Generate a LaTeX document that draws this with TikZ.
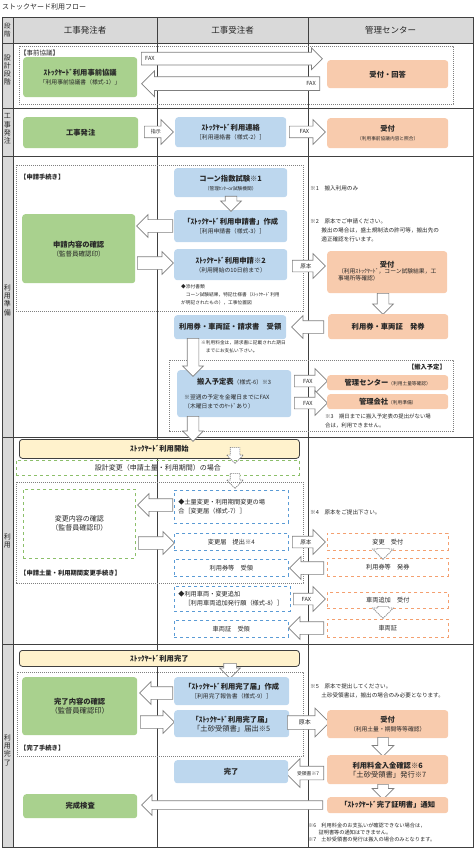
\documentclass[tikz,border=0pt]{standalone}
\usepackage{fontspec}
\setmainfont{Noto Sans CJK JP}
\usetikzlibrary{shapes.arrows,positioning}

\definecolor{boxgreen}{HTML}{A9D18E}
\definecolor{boxblue}{HTML}{BDD7EE}
\definecolor{boxorange}{HTML}{F8CBAD}
\definecolor{barfill}{HTML}{FFF2CC}
\definecolor{hdgray}{HTML}{D9D9D9}
\definecolor{arrgray}{HTML}{7F7F7F}
\definecolor{dshblue}{HTML}{5B9BD5}
\definecolor{dshorange}{HTML}{F4A070}
\definecolor{dshgreen}{HTML}{8CBF6A}
\definecolor{txt}{HTML}{262626}

\newcommand\szH{\fontsize{8.5}{10}\selectfont}
\newcommand\szA{\fontsize{7.3}{9}\selectfont}
\newcommand\szB{\fontsize{5.8}{7.5}\selectfont}
\newcommand\szN{\fontsize{5.6}{9}\selectfont}
\newcommand\szT{\fontsize{4.7}{8}\selectfont}
\newcommand\szR{\fontsize{7}{8.3}\selectfont}

\begin{document}
\begin{tikzpicture}[x=1pt,y=-1pt,
  box/.style={anchor=north west, rounded corners=3pt, align=center, inner sep=1pt, font=\szA, text=txt},
  gbox/.style={box, fill=boxgreen},
  bbox/.style={box, fill=boxblue},
  obox/.style={box, fill=boxorange},
  bdash/.style={box, rounded corners=0pt, draw=dshblue, dashed, line width=0.6pt, font=\fontsize{6.2}{8.5}\selectfont},
  odash/.style={bdash, draw=dshorange},
  gdash/.style={bdash, draw=dshgreen},
  ybar/.style={box, fill=barfill, draw=black!75, line width=0.8pt},
  grp/.style={draw=gray, dash pattern=on 1.2pt off 0.8pt, line width=0.5pt},
  tline/.style={draw=black!75, line width=0.8pt},
  barrow/.style={single arrow, draw=arrgray, fill=white, line width=0.7pt, inner xsep=1pt, inner ysep=0pt,
    font=\szN, text=txt, text height=7.5pt, text depth=3.5pt, single arrow head extend=6.5pt, anchor=tail},
  larrow/.style={barrow, shape border rotate=180},
  side/.style={text height=8pt, text depth=4pt, single arrow head extend=5pt},
  darrow/.style={barrow, rotate=-90, single arrow head extend=4.5pt},
  ddarrow/.style={darrow, dash pattern=on 1.2pt off 0.8pt},
  note/.style={anchor=north west, align=left, font=\szN, inner sep=0pt, text=txt},
  lbl/.style={font=\szN, inner sep=0pt, text=txt},
  sect/.style={anchor=west, inner sep=0pt, font=\fontsize{6.3}{8}\selectfont\bfseries, text=txt},
  rowlbl/.style={align=center, font=\szR, inner sep=0pt, text=txt}
]
\useasboundingbox (0,0) rectangle (474,850);

% table
\node[anchor=west, font=\fontsize{7}{8}\selectfont, inner sep=0pt, text=txt] (title) at (2,7) {ストックヤード利用フロー};
\fill[hdgray] (2,18) rectangle (473,43);
\fill[hdgray] (2,43) rectangle (13,847);
\foreach \y in {43,108,156,437,644}
  \draw[tline] (2,\y) -- (473,\y);
\foreach \x in {13,157,308}
  \draw[tline] (\x,18) -- (\x,847);
\draw[tline, line width=1pt] (2,18) rectangle (473,847);

\node[rowlbl, font=\fontsize{6.5}{8}\selectfont] (dankai) at (7.5,30.5) {段\\階};
\node[font=\szH, text=txt] (hd1) at (85,30.5) {工事発注者};
\node[font=\szH, text=txt] (hd2) at (232.5,30.5) {工事受注者};
\node[font=\szH, text=txt] (hd3) at (390.5,30.5) {管理センター};
\node[rowlbl] (r1) at (7.5,70) {設\\計\\段\\階};
\node[rowlbl] (r2) at (7.5,129) {工\\事\\発\\注};
\node[rowlbl] (r3) at (7.5,300) {利\\用\\準\\備};
\node[rowlbl] (r4) at (7.5,541) {利\\用};
\node[rowlbl] (r5) at (7.5,750) {利\\用\\完\\了};

% 設計段階
\draw[grp] (19,46) rectangle (453,104);
\node[sect, font=\fontsize{6.5}{8}\selectfont] (kyogi) at (20,53) {【事前協議】};
\node[gbox, minimum width=114pt, minimum height=40pt] (jizen) at (23,57)
  {\bfseries ｽﾄｯｸﾔｰﾄﾞ利用事前協議\\\mdseries\szB 「利用事前協議書（様式-1）」};
\node[obox, minimum width=121pt, minimum height=28pt] (kaito) at (327,60) {\bfseries 受付・回答};
\node[barrow, minimum height=181pt, text height=8pt, text depth=4pt, single arrow head extend=4.5pt] (fax1) at (141,58.7) {};
\node[lbl, right=4pt of fax1.tail] (faxl1) {FAX};
\node[larrow, minimum height=178pt, text height=8.5pt, text depth=4.5pt, single arrow head extend=6pt] (fax2) at (320,83.7) {};
\node[lbl, left=4pt of fax2.tail] (faxl2) {FAX};

% 工事発注
\node[gbox, minimum width=115pt, minimum height=31pt] (hatchu) at (23,117) {\bfseries 工事発注};
\node[barrow, minimum height=29pt, font=\fontsize{5}{6}\selectfont] (shiji) at (144,132) {指示};
\node[bbox, minimum width=111pt, minimum height=30pt] (renraku) at (175,117)
  {\bfseries ｽﾄｯｸﾔｰﾄﾞ利用連絡\\\mdseries\szB［利用連絡書（様式-2）］};
\node[barrow, minimum height=36pt] (fax3) at (289,132) {FAX};
\node[obox, minimum width=121pt, minimum height=30pt] (uke1) at (327,118)
  {\bfseries 受付\\\mdseries\szT（利用事前協議内容と照合）};

% 利用準備
\draw[grp] (16,165) rectangle (303,311);
\node[sect] (tetsuzuki1) at (20,177) {【申請手続き】};
\node[bbox, minimum width=113pt, minimum height=29pt] (cone) at (174,168)
  {\bfseries コーン指数試験※1\\\mdseries\szT（管理ｾﾝﾀｰor試験機関）};
\node[bbox, minimum width=113pt, minimum height=32pt] (shinseisho) at (174,210)
  {\bfseries 「ｽﾄｯｸﾔｰﾄﾞ利用申請書」作成\\\mdseries\szB［利用申請書（様式-3）］};
\node[darrow, minimum height=15pt] (a1) at (231,196) {};
\node[gbox, minimum width=113pt, minimum height=69pt] (kakunin1) at (22,214)
  {\bfseries 申請内容の確認\\\mdseries\fontsize{6.5}{8.5}\selectfont（監督員確認印）};
\node[larrow, side, minimum height=36pt] (a2) at (173,226) {};
\node[barrow, side, minimum height=36pt] (a3) at (137,263) {};
\node[bbox, minimum width=113pt, minimum height=31pt] (shinsei) at (174,249)
  {\bfseries ｽﾄｯｸﾔｰﾄﾞ利用申請※2\\\mdseries\szB（利用開始の10日前まで）};
\node[note, font=\fontsize{4.7}{8}\selectfont] (tenpu) at (181,284)
  {◆添付書類\\　コーン試験結果，特記仕様書（ｽﾄｯｸﾔｰﾄﾞ利用\\が明記されたもの），工事位置図};
\node[barrow, minimum height=33pt] (gen1) at (292,266) {原本};
\node[obox, minimum width=120pt, minimum height=42pt] (uke2) at (327,251)
  {\bfseries 受付\\[-1pt]\mdseries\szB\begin{tabular}{@{}l@{}}（利用ｽﾄｯｸﾔｰﾄﾞ，コーン試験結果，工\\事場所等確認）\end{tabular}};
\node[note, anchor=west] (note1) at (310,188) {※1　搬入利用のみ};
\node[note] (note2) at (310,219) {※2　原本でご申請ください。\\　　搬出の場合は，盛土規制法の許可等，搬出先の\\　　適正確認を行います。};
\node[darrow, minimum height=21pt] (a4) at (383,293) {};
\node[obox, minimum width=120pt, minimum height=25pt] (hakken1) at (328,314) {\bfseries 利用券・車両証　発券};
\node[larrow, side, minimum height=32pt] (a5) at (324,327) {};
\node[bbox, minimum width=112pt, minimum height=24pt] (juryo1) at (174,315) {\bfseries 利用券・車両証・請求書　受領};
\node[note, font=\fontsize{4.7}{8}\selectfont] (shiharai) at (201,340) {※利用料金は，請求書に記載された期日\\　までにお支払い下さい。};
\draw[grp] (169,360) rectangle (453,431);
\node[sect, anchor=east] (yotei) at (446,367) {【搬入予定】};
\node[bbox, minimum width=114pt, minimum height=47pt, align=left, text width=100pt] (hannyu) at (177,370)
  {\makebox[100pt]{\bfseries 搬入予定表\mdseries\szB（様式-6）※3}\\[7pt]\szB ※翌週の予定を金曜日までにFAX\\（木曜日までのﾔｰﾄﾞあり）};
\node[darrow, minimum height=38pt] (a6) at (193,338) {};
\node[barrow, minimum height=33pt] (fax4) at (294,381) {FAX};
\node[barrow, minimum height=33pt] (fax5) at (294,403) {FAX};
\node[obox, minimum width=121pt, minimum height=15pt] (kanri1) at (327,375)
  {\bfseries 管理センター\mdseries\szT（利用土量等確認）};
\node[obox, minimum width=121pt, minimum height=15pt] (kanri2) at (327,394)
  {\bfseries 管理会社\mdseries\szT（利用準備）};
\node[note, font=\fontsize{5.4}{8.5}\selectfont] (note3) at (325,414) {※3　期日までに搬入予定表の提出がない場\\合は，利用できません。};

% 利用
\node[ybar, minimum width=280pt, minimum height=19pt] (kaishi) at (19,439) {\bfseries ｽﾄｯｸﾔｰﾄﾞ利用開始};
\node[darrow, minimum height=25pt] (a7) at (193,416) {};
\node[ddarrow, minimum height=16pt, text height=6.5pt, text depth=2.5pt, single arrow head extend=3.5pt] (d1) at (235,447) {};
\node[gdash, minimum width=283pt, minimum height=15pt, font=\fontsize{7}{8}\selectfont] (sekkei) at (16,460) {設計変更（申請土量・利用期間）の場合};
\node[ddarrow, minimum height=15pt, text height=6.5pt, text depth=2.5pt, single arrow head extend=3.5pt] (d2) at (235,473) {};
\draw[grp] (16,482) rectangle (303,583);
\node[gdash, minimum width=112pt, minimum height=69pt, font=\fontsize{7}{9}\selectfont] (henkou1) at (23,489)
  {変更内容の確認\\（監督員確認印）};
\node[sect] (tetsuzuki2) at (20,573) {【申請土量・利用期間変更手続き】};
\node[bdash, minimum width=114pt, minimum height=33pt, align=left, text width=106pt] (dobox) at (174,490)
  {◆土量変更・利用期間変更の場\\合［変更届（様式-7）］};
\node[larrow, side, minimum height=35pt] (a8) at (173,505) {};
\node[barrow, side, minimum height=36pt] (a9) at (138,543) {};
\node[bdash, minimum width=114pt, minimum height=17pt] (teishutsu) at (174,533) {変更届　提出※4};
\node[bdash, minimum width=114pt, minimum height=17pt] (juryo2) at (174,559) {利用券等　受領};
\node[note, anchor=west] (note4) at (310,512) {※4　原本をご提出下さい。};
\node[barrow, minimum height=33pt] (gen2) at (292,542) {原本};
\node[odash, minimum width=121pt, minimum height=17pt] (henkou2) at (327,533) {変更　受付};
\node[odash, minimum width=121pt, minimum height=18pt] (hakken2) at (327,558) {利用券等　発券};
\node[ddarrow, minimum height=11pt, text height=6.5pt, text depth=3.5pt, single arrow head extend=5pt] (d3) at (383,548) {};
\node[larrow, side, minimum height=34pt] (a10) at (324,568) {};
\node[bdash, minimum width=116pt, minimum height=25pt, align=left, text width=108pt] (sharyou) at (174,586)
  {◆利用車両・変更追加\\　［利用車両追加発行願（様式-8）］};
\node[barrow, minimum height=32pt] (fax6) at (293,599) {FAX};
\node[odash, minimum width=121pt, minimum height=16pt] (tsuika) at (327,592) {車両追加　受付};
\node[odash, minimum width=121pt, minimum height=18pt] (shaken) at (327,619) {車両証};
\node[ddarrow, minimum height=12pt, text height=6.5pt, text depth=3.5pt, single arrow head extend=5pt] (d4) at (383,606) {};
\node[bdash, minimum width=114pt, minimum height=17pt] (juryo3) at (174,620) {車両証　受領};
\node[larrow, side, minimum height=35pt] (a11) at (324,628) {};

% 利用完了
\node[ybar, minimum width=280pt, minimum height=16pt] (kanryo) at (19,650) {\bfseries ｽﾄｯｸﾔｰﾄﾞ利用完了};
\node[darrow, minimum height=15pt, text height=8pt, text depth=4pt, single arrow head extend=4pt] (a12) at (230,663) {};
\draw[grp] (17,672) rectangle (303,756);
\node[gbox, minimum width=115pt, minimum height=58pt] (kakunin2) at (22,677)
  {\bfseries 完了内容の確認\\（監督員確認印）};
\node[bbox, minimum width=115pt, minimum height=28pt] (todoke) at (174,677)
  {\bfseries 「ｽﾄｯｸﾔｰﾄﾞ利用完了届」作成\\\mdseries\szB［利用完了報告書（様式-9）］};
\node[larrow, side, minimum height=33pt] (a13) at (173,693) {};
\node[barrow, side, minimum height=34pt] (a14) at (140,722) {};
\node[bbox, minimum width=115pt, minimum height=27pt] (todokede) at (174,710)
  {\bfseries 「ｽﾄｯｸﾔｰﾄﾞ利用完了届」\\「土砂受領書」届出※5};
\node[sect] (tetsuzuki3) at (20,748) {【完了手続き】};
\node[note] (note5) at (310,684) {※5　原本で提出してください。\\　　土砂受領書は，搬出の場合のみ必要となります。};
\node[barrow, minimum height=42pt, text height=8.5pt, text depth=4.5pt, single arrow head extend=7.5pt, font=\fontsize{6}{7}\selectfont] (gen3) at (287,722.5) {原本};
\node[obox, minimum width=121pt, minimum height=28pt] (uke3) at (327,710)
  {\bfseries 受付\\\mdseries\szB（利用土量・期間等等確認）};
\node[darrow, minimum height=19pt, text height=7pt, text depth=3pt, single arrow head extend=5.5pt] (a15) at (383,737) {};
\node[obox, minimum width=121pt, minimum height=29pt] (nyukin) at (327,755)
  {\bfseries 利用料金入金確認※6\\「土砂受領書」発行※7};
\node[larrow, minimum height=38pt, text height=8.5pt, text depth=4.5pt, single arrow head extend=7.5pt, font=\fontsize{4.8}{6}\selectfont] (a16) at (324,773) {受領書※7};
\node[bbox, minimum width=114pt, minimum height=23pt] (kanryo2) at (174,760) {\bfseries 完了};
\node[darrow, minimum height=15pt, text height=7pt, text depth=3pt, single arrow head extend=5.5pt] (a17) at (383,784) {};
\node[obox, minimum width=121pt, minimum height=16pt] (shomei) at (327,797) {\bfseries 「ｽﾄｯｸﾔｰﾄﾞ完了証明書」通知};
\node[larrow, minimum height=181pt, text height=6pt, text depth=2pt, single arrow head extend=6pt] (a18) at (323,805) {};
\node[gbox, minimum width=114pt, minimum height=24pt] (kensa) at (23,794) {\bfseries 完成検査};
\node[note, font=\fontsize{5.2}{7}\selectfont] (note6) at (308,823)
  {※6　利用料金のお支払いが確認できない場合は，\\　　証明書等の通知はできません。\\※7　土砂受領書の発行は搬入の場合のみとなります。};

\end{tikzpicture}
\end{document}
